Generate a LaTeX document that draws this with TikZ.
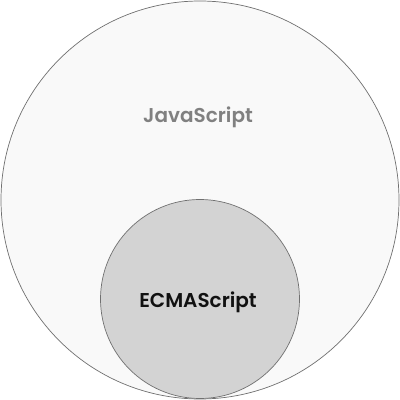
\documentclass[tikz,border=0pt]{standalone}
\usepackage{fontspec}
\setmainfont{Poppins}[BoldFont={Poppins SemiBold}]
\definecolor{outerfill}{HTML}{F9F9F9}
\definecolor{innerfill}{HTML}{D3D3D3}
\definecolor{edge}{HTML}{707070}
\definecolor{jsgray}{HTML}{808080}
\definecolor{esblack}{HTML}{111111}
\begin{document}
\begin{tikzpicture}[x=1pt,y=1pt,
  ring/.style={circle, draw=edge, line width=0.7pt, inner sep=0pt},
  lbl/.style={font=\fontsize{20}{24}\selectfont\bfseries}]
\useasboundingbox (0,0) rectangle (400,400);
\node[ring, fill=outerfill, minimum size=398pt] (js) at (200,200) {};
\node[ring, fill=innerfill, minimum size=199pt] (es) at (200,101) {};
\node[lbl, text=jsgray] (jst) at (198,283) {JavaScript};
\node[lbl, text=esblack] (est) at (198,98) {ECMAScript};
\end{tikzpicture}
\end{document}
